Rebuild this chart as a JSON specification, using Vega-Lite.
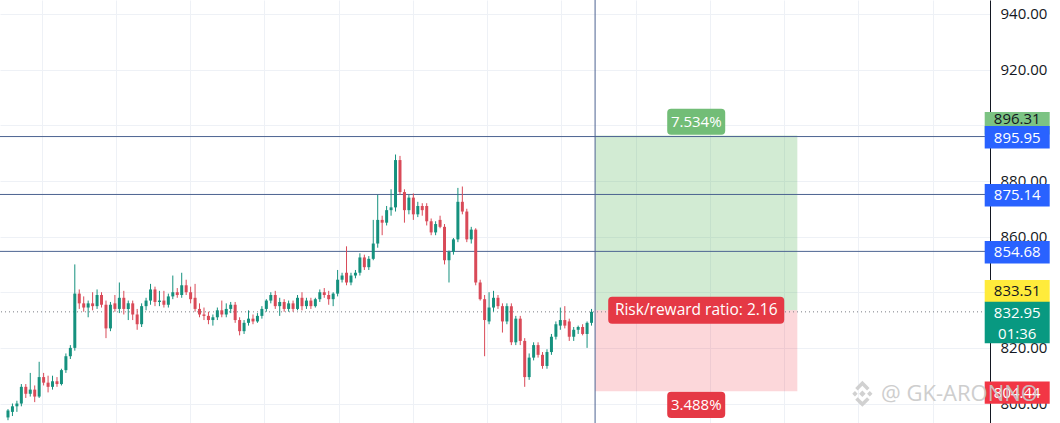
{
  "$schema": "https://vega.github.io/schema/vega-lite/v6.json",
  "width": 990,
  "height": 423,
  "autosize": "none",
  "padding": {"left": 0, "top": 0, "right": 70, "bottom": 0},
  "background": "white",
  "config": {"view": {"stroke": null}, "font": "Open Sans"},
  "datasets": {
    "candles": [
      {"t":0,"o":795,"h":798,"l":794,"c":797.5},{"t":1,"o":797,"h":800,"l":795.5,"c":799},{"t":2,"o":799,"h":801,"l":797,"c":800},
      {"t":3,"o":800,"h":807,"l":799,"c":806},{"t":4,"o":806,"h":807,"l":802,"c":803.5},{"t":5,"o":803.5,"h":811,"l":802.5,"c":805},
      {"t":6,"o":805,"h":806.5,"l":800.5,"c":802.5},{"t":7,"o":802.5,"h":815,"l":802,"c":809.5},{"t":8,"o":809.5,"h":811,"l":806.5,"c":807.5},
      {"t":9,"o":807.5,"h":810,"l":804,"c":806},{"t":10,"o":806,"h":810,"l":805,"c":808},{"t":11,"o":808,"h":809.5,"l":806,"c":807},
      {"t":12,"o":807,"h":812.5,"l":806.5,"c":812},{"t":13,"o":812,"h":818,"l":811,"c":817},{"t":14,"o":817,"h":821,"l":816,"c":820},
      {"t":15,"o":820,"h":850,"l":819,"c":839.5},{"t":16,"o":839.5,"h":841,"l":834,"c":836},{"t":17,"o":836,"h":838.5,"l":833,"c":834.5},
      {"t":18,"o":834.5,"h":837,"l":831,"c":836},{"t":19,"o":836,"h":840,"l":833.5,"c":835},{"t":20,"o":835,"h":841,"l":834,"c":839},
      {"t":21,"o":839,"h":840,"l":834.5,"c":835.5},{"t":22,"o":835.5,"h":837,"l":823.5,"c":827},{"t":23,"o":827,"h":836.5,"l":826,"c":835.5},
      {"t":24,"o":836,"h":839,"l":833,"c":834},{"t":25,"o":834,"h":843.5,"l":832.5,"c":838},{"t":26,"o":838,"h":840.5,"l":832,"c":834},
      {"t":27,"o":834,"h":837,"l":830,"c":836},{"t":28,"o":836,"h":837,"l":830,"c":832},{"t":29,"o":832,"h":834,"l":826.5,"c":828.5},
      {"t":30,"o":828.5,"h":836,"l":827.5,"c":835},{"t":31,"o":835,"h":838,"l":833.5,"c":837},{"t":32,"o":837,"h":843,"l":835.5,"c":841},
      {"t":33,"o":841,"h":842,"l":835,"c":836.5},{"t":34,"o":836.5,"h":840.5,"l":835,"c":837},{"t":35,"o":837,"h":840.5,"l":834.5,"c":835.5},
      {"t":36,"o":835.5,"h":839.5,"l":834.5,"c":838.5},{"t":37,"o":838.5,"h":846,"l":837.5,"c":840},{"t":38,"o":840,"h":841.5,"l":838,"c":839},
      {"t":39,"o":839,"h":847,"l":838,"c":842.5},{"t":40,"o":842.5,"h":844.5,"l":839,"c":840},{"t":41,"o":840,"h":842,"l":836,"c":837.5},
      {"t":42,"o":838,"h":843,"l":833,"c":834},{"t":43,"o":834,"h":836,"l":831,"c":832},{"t":44,"o":832,"h":834.5,"l":830,"c":831.5},
      {"t":45,"o":831.5,"h":833,"l":828.5,"c":830},{"t":46,"o":830,"h":832,"l":828,"c":831},{"t":47,"o":831,"h":834.5,"l":830,"c":833.5},
      {"t":48,"o":833.5,"h":837,"l":831,"c":832},{"t":49,"o":832,"h":836,"l":831,"c":834},{"t":50,"o":834,"h":836.5,"l":832.5,"c":835.5},
      {"t":51,"o":835.5,"h":836.5,"l":829,"c":830},{"t":52,"o":830,"h":831,"l":824.5,"c":826},{"t":53,"o":826,"h":830,"l":825,"c":829},
      {"t":54,"o":829,"h":833.5,"l":828,"c":830.5},{"t":55,"o":830.5,"h":832,"l":828.5,"c":829.5},{"t":56,"o":829.5,"h":832.5,"l":829,"c":831.5},
      {"t":57,"o":831.5,"h":835,"l":830.5,"c":834},{"t":58,"o":834,"h":837.5,"l":833,"c":837},{"t":59,"o":837,"h":840,"l":836,"c":839},
      {"t":60,"o":839,"h":840.5,"l":834,"c":835},{"t":61,"o":835,"h":838,"l":831.5,"c":836.5},{"t":62,"o":836.5,"h":837.5,"l":833,"c":834},
      {"t":63,"o":834,"h":837,"l":833,"c":836},{"t":64,"o":836,"h":837,"l":833,"c":834},{"t":65,"o":834,"h":839,"l":833.5,"c":838},
      {"t":66,"o":838,"h":840,"l":833.5,"c":835},{"t":67,"o":835,"h":838,"l":834,"c":837},{"t":68,"o":837,"h":838,"l":834,"c":835},
      {"t":69,"o":835,"h":838,"l":834.5,"c":837.5},{"t":70,"o":837.5,"h":841,"l":836.5,"c":840},{"t":71,"o":840,"h":841.5,"l":838,"c":839},
      {"t":72,"o":839,"h":840.5,"l":835.5,"c":837.5},{"t":73,"o":837.5,"h":840,"l":835,"c":839.5},{"t":74,"o":839.5,"h":848,"l":838.5,"c":844.5},
      {"t":75,"o":844.5,"h":847,"l":843.5,"c":846},{"t":76,"o":847,"h":856.5,"l":842.5,"c":843.5},{"t":77,"o":843.5,"h":847,"l":842.5,"c":846},
      {"t":78,"o":846,"h":848,"l":845,"c":847},{"t":79,"o":847,"h":854,"l":846,"c":852.5},{"t":80,"o":852.5,"h":853.5,"l":848,"c":849},
      {"t":81,"o":849,"h":853,"l":848,"c":852},{"t":82,"o":852,"h":866,"l":851.5,"c":857.5},{"t":83,"o":857.5,"h":875,"l":856,"c":866},
      {"t":84,"o":866,"h":867.5,"l":860.5,"c":865},{"t":85,"o":865,"h":871,"l":864,"c":869.5},{"t":86,"o":869.5,"h":877,"l":867.5,"c":870.5},
      {"t":87,"o":870.5,"h":889.5,"l":869,"c":887.5},{"t":88,"o":887.5,"h":889,"l":875,"c":876},{"t":89,"o":876,"h":877,"l":865,"c":869.5},
      {"t":90,"o":869.5,"h":875,"l":868,"c":874},{"t":91,"o":874,"h":875.5,"l":866,"c":868},{"t":92,"o":868,"h":872.5,"l":867,"c":871},
      {"t":93,"o":871,"h":872,"l":867.5,"c":869.5},{"t":94,"o":871,"h":872,"l":864,"c":865.5},{"t":95,"o":865.5,"h":866.5,"l":860.5,"c":861.5},
      {"t":96,"o":861.5,"h":865.5,"l":860.5,"c":864.5},{"t":97,"o":866,"h":867.5,"l":863,"c":863.5},{"t":98,"o":863.5,"h":864.5,"l":850,"c":851.5},
      {"t":99,"o":851.5,"h":855,"l":843.5,"c":854.5},{"t":100,"o":854.5,"h":859.5,"l":853.5,"c":859},{"t":101,"o":859,"h":877.5,"l":858,"c":872.5},
      {"t":102,"o":872.5,"h":878,"l":868,"c":869},{"t":103,"o":869,"h":870,"l":858,"c":859},{"t":104,"o":859,"h":863.5,"l":857.5,"c":862.5},
      {"t":105,"o":862.5,"h":863,"l":842.5,"c":843.5},{"t":106,"o":843.5,"h":844.5,"l":837,"c":837.5},{"t":107,"o":837.5,"h":839,"l":817,"c":830},
      {"t":108,"o":829.5,"h":840,"l":828.5,"c":834.5},{"t":109,"o":834.5,"h":840.5,"l":833,"c":838},{"t":110,"o":838,"h":839,"l":834,"c":835},
      {"t":111,"o":835,"h":836,"l":825.5,"c":829.5},{"t":112,"o":829.5,"h":836,"l":828.5,"c":835},{"t":113,"o":835,"h":836,"l":821,"c":822},
      {"t":114,"o":822,"h":831.5,"l":821,"c":830.5},{"t":115,"o":830.5,"h":831.5,"l":821,"c":822.5},{"t":116,"o":822.5,"h":823.5,"l":806,"c":809.5},
      {"t":117,"o":809.5,"h":818,"l":808.5,"c":816.5},{"t":118,"o":816.5,"h":822,"l":815.5,"c":821},{"t":119,"o":821,"h":822,"l":816.5,"c":817.5},
      {"t":120,"o":817.5,"h":818.5,"l":812.5,"c":813.5},{"t":121,"o":813.5,"h":819.5,"l":812.5,"c":818.5},{"t":122,"o":818.5,"h":825,"l":817.5,"c":824},
      {"t":123,"o":824,"h":829.5,"l":823,"c":828.5},{"t":124,"o":828,"h":834.5,"l":826.5,"c":830},{"t":125,"o":830,"h":835,"l":827,"c":828},
      {"t":126,"o":829.5,"h":830.5,"l":822.5,"c":824},{"t":127,"o":824,"h":827.5,"l":822.5,"c":826.5},{"t":128,"o":826.5,"h":828,"l":825,"c":827.5},
      {"t":129,"o":827.5,"h":828.5,"l":824.5,"c":825},{"t":130,"o":825,"h":829.5,"l":820,"c":829},{"t":131,"o":829,"h":834,"l":828,"c":832.95}
    ],
    "position": [
      {"t0": 131.8, "t1": 177.2, "lo": 833.51, "hi": 896.31, "zone": "profit"},
      {"t0": 131.8, "t1": 177.2, "lo": 804.44, "hi": 833.51, "zone": "loss"}
    ],
    "levels": [{"price": 895.95}, {"price": 875.14}, {"price": 854.68}],
    "lastprice": [{"price": 832.95, "countdown": "01:36"}],
    "vline": [{"t": 131.8}],
    "poslabels": [
      {"t": 154.5, "price": 896.31, "text": "7.534%", "kind": "profit"},
      {"t": 154.5, "price": 833.51, "text": "Risk/reward ratio: 2.16", "kind": "ratio"},
      {"t": 154.5, "price": 804.44, "text": "3.488%", "kind": "loss"}
    ],
    "tags": [
      {"price": 896.31, "label": "896.31", "kind": "target"},
      {"price": 895.95, "label": "895.95", "kind": "level"},
      {"price": 875.14, "label": "875.14", "kind": "level"},
      {"price": 854.68, "label": "854.68", "kind": "level"},
      {"price": 833.51, "label": "833.51", "kind": "entry"},
      {"price": 832.95, "label": "832.95", "kind": "last"},
      {"price": 804.44, "label": "804.44", "kind": "stop"}
    ],
    "watermark": [{"text": "@ GK-ARONNO"}]
  },
  "layer": [
    {
      "data": {"name": "position"},
      "mark": {"type": "rect"},
      "encoding": {
        "x": {"field": "t0", "type": "quantitative",
          "scale": {"domain": [-0.67, 219.33], "nice": false, "zero": false},
          "axis": {"orient": "bottom", "values": [7.56, 24.22, 40.89, 57.56, 74.22, 90.89, 107.56, 124.22, 140.89, 157.56, 174.22, 190.89, 207.56],
            "labels": false, "ticks": false, "domain": false, "grid": true, "gridColor": "#eef1f6", "title": null}},
        "x2": {"field": "t1"},
        "y": {"field": "lo", "type": "quantitative",
          "scale": {"domain": [793, 945.03], "nice": false, "zero": false},
          "axis": {"orient": "right", "values": [800, 820, 840, 860, 880, 900, 920, 940], "format": ".2f",
            "grid": true, "gridColor": "#eef1f6", "domain": true, "domainColor": "#131722", "ticks": false, "tickSize": 0,
            "labelPadding": 10, "labelFontSize": 15, "labelFont": "Open Sans", "labelColor": "#131722", "title": null}},
        "y2": {"field": "hi"},
        "color": {"condition": {"test": "datum.zone == 'profit'", "value": "#4caf50"}, "value": "#f23645"},
        "opacity": {"condition": {"test": "datum.zone == 'profit'", "value": 0.25}, "value": 0.2}
      }
    },
    {
      "data": {"name": "levels"},
      "mark": {"type": "rule", "color": "#4c6391", "strokeWidth": 1},
      "encoding": {"y": {"field": "price", "type": "quantitative"}}
    },
    {
      "data": {"name": "lastprice"},
      "mark": {"type": "rule", "color": "#7a7d86", "strokeWidth": 1, "strokeDash": [1, 3]},
      "encoding": {"y": {"field": "price", "type": "quantitative"}}
    },
    {
      "data": {"name": "vline"},
      "mark": {"type": "rule", "color": "#4c6391", "strokeWidth": 1},
      "encoding": {"x": {"field": "t", "type": "quantitative"}}
    },
    {
      "data": {"name": "candles"},
      "mark": {"type": "rule", "strokeWidth": 1},
      "encoding": {
        "x": {"field": "t", "type": "quantitative"},
        "y": {"field": "l", "type": "quantitative"},
        "y2": {"field": "h"},
        "color": {"condition": {"test": "datum.c >= datum.o", "value": "#15917e"}, "value": "#d94a58"}
      }
    },
    {
      "data": {"name": "candles"},
      "mark": {"type": "bar", "width": 3},
      "encoding": {
        "x": {"field": "t", "type": "quantitative"},
        "y": {"field": "o", "type": "quantitative"},
        "y2": {"field": "c"},
        "color": {"condition": {"test": "datum.c >= datum.o", "value": "#15917e"}, "value": "#d94a58"}
      }
    },
    {
      "data": {"name": "poslabels"},
      "transform": [{"filter": "datum.kind == 'profit'"}],
      "layer": [
        {"mark": {"type": "point", "filled": true, "opacity": 1, "size": 3364, "color": "#72bd77",
          "shape": "M-0.862,-0.921L0.862,-0.921Q1,-0.921 1,-0.783L1,-0.162Q1,-0.024 0.862,-0.024L-0.862,-0.024Q-1,-0.024 -1,-0.162L-1,-0.783Q-1,-0.921 -0.862,-0.921Z"}},
        {"mark": {"type": "text", "color": "white", "fontSize": 15, "font": "Open Sans", "baseline": "middle", "dy": -14},
          "encoding": {"text": {"field": "text"}}}
      ],
      "encoding": {"x": {"field": "t", "type": "quantitative"}, "y": {"field": "price", "type": "quantitative"}}
    },
    {
      "data": {"name": "poslabels"},
      "transform": [{"filter": "datum.kind == 'ratio'"}],
      "layer": [
        {"mark": {"type": "point", "filled": true, "opacity": 1, "size": 30976, "color": "#e53945",
          "shape": "M-0.9545,-0.1534L0.9545,-0.1534Q1,-0.1534 1,-0.1079L1,0.1079Q1,0.1534 0.9545,0.1534L-0.9545,0.1534Q-1,0.1534 -1,0.1079L-1,-0.1079Q-1,-0.1534 -0.9545,-0.1534Z"}},
        {"mark": {"type": "text", "color": "white", "fontSize": 15.5, "font": "Open Sans", "baseline": "middle", "dy": 0},
          "encoding": {"text": {"field": "text"}}}
      ],
      "encoding": {"x": {"field": "t", "type": "quantitative"}, "y": {"field": "price", "type": "quantitative"}}
    },
    {
      "data": {"name": "poslabels"},
      "transform": [{"filter": "datum.kind == 'loss'"}],
      "layer": [
        {"mark": {"type": "point", "filled": true, "opacity": 1, "size": 3364, "color": "#e53945",
          "shape": "M-0.862,0.024L0.862,0.024Q1,0.024 1,0.162L1,0.783Q1,0.921 0.862,0.921L-0.862,0.921Q-1,0.921 -1,0.783L-1,0.162Q-1,0.024 -0.862,0.024Z"}},
        {"mark": {"type": "text", "color": "white", "fontSize": 15, "font": "Open Sans", "baseline": "middle", "dy": 14},
          "encoding": {"text": {"field": "text"}}}
      ],
      "encoding": {"x": {"field": "t", "type": "quantitative"}, "y": {"field": "price", "type": "quantitative"}}
    },
    {
      "data": {"name": "tags"},
      "transform": [{"filter": "datum.kind == 'target'"}],
      "layer": [
        {"mark": {"type": "point", "filled": true, "opacity": 1, "size": 4225, "color": "#7cc383", "clip": false,
          "shape": "M-1,-0.723L1,-0.723L1,-0.03L-1,-0.03Z"}},
        {"mark": {"type": "text", "color": "#131722", "fontSize": 15, "font": "Open Sans", "baseline": "middle", "dy": -16.5},
          "encoding": {"text": {"field": "label"}}}
      ],
      "encoding": {"x": {"datum": 226.56, "type": "quantitative"}, "y": {"field": "price", "type": "quantitative"}}
    },
    {
      "data": {"name": "tags"},
      "transform": [{"filter": "datum.kind == 'level'"}],
      "layer": [
        {"mark": {"type": "point", "filled": true, "opacity": 1, "size": 4225, "color": "#2962ff",
          "shape": "M-1,-0.323L1,-0.323L1,0.369L-1,0.369Z"}},
        {"mark": {"type": "text", "color": "white", "fontSize": 15, "font": "Open Sans", "baseline": "middle", "dy": 1},
          "encoding": {"text": {"field": "label"}}}
      ],
      "encoding": {"x": {"datum": 226.56, "type": "quantitative"}, "y": {"field": "price", "type": "quantitative"}}
    },
    {
      "data": {"name": "tags"},
      "transform": [{"filter": "datum.kind == 'entry'"}],
      "layer": [
        {"mark": {"type": "point", "filled": true, "opacity": 1, "size": 4225, "color": "#ffeb3b",
          "shape": "M-1,-0.935L1,-0.935L1,-0.258L-1,-0.258Z"}},
        {"mark": {"type": "text", "color": "#131722", "fontSize": 15, "font": "Open Sans", "baseline": "middle", "dy": -19},
          "encoding": {"text": {"field": "label"}}}
      ],
      "encoding": {"x": {"datum": 226.56, "type": "quantitative"}, "y": {"field": "price", "type": "quantitative"}}
    },
    {
      "data": {"name": "lastprice"},
      "layer": [
        {"mark": {"type": "point", "filled": true, "opacity": 1, "size": 4225, "color": "#089981",
          "shape": "M-1,-0.314L1,-0.314L1,0.966L-1,0.966Z"}},
        {"mark": {"type": "text", "color": "white", "fontSize": 15, "font": "Open Sans", "baseline": "middle", "dy": 1},
          "encoding": {"text": {"field": "price", "type": "quantitative", "format": ".2f"}}},
        {"mark": {"type": "text", "color": "white", "fontSize": 15, "font": "Open Sans", "baseline": "middle", "dy": 22},
          "encoding": {"text": {"field": "countdown"}}}
      ],
      "encoding": {"x": {"datum": 226.56, "type": "quantitative"}, "y": {"field": "price", "type": "quantitative"}}
    },
    {
      "data": {"name": "tags"},
      "transform": [{"filter": "datum.kind == 'stop'"}],
      "layer": [
        {"mark": {"type": "point", "filled": true, "opacity": 1, "size": 4225, "color": "#f23645",
          "shape": "M-1,-0.295L1,-0.295L1,0.39L-1,0.39Z"}},
        {"mark": {"type": "text", "color": "white", "fontSize": 15, "font": "Open Sans", "baseline": "middle", "dy": 2},
          "encoding": {"text": {"field": "label"}}}
      ],
      "encoding": {"x": {"datum": 226.56, "type": "quantitative"}, "y": {"field": "price", "type": "quantitative"}}
    },
    {
      "data": {"name": "watermark"},
      "layer": [
        {"mark": {"type": "point", "filled": true, "opacity": 0.85, "size": 676, "color": "#c9c9c9",
          "shape": "M0,-0.25L0.25,0L0,0.25L-0.25,0Z M0,-1L0.55,-0.45L0.36,-0.26L0,-0.62L-0.36,-0.26L-0.55,-0.45Z M0,1L0.55,0.45L0.36,0.26L0,0.62L-0.36,0.26L-0.55,0.45Z M-0.78,0L-0.57,-0.21L-0.36,0L-0.57,0.21Z M0.78,0L0.57,-0.21L0.36,0L0.57,0.21Z"},
          "encoding": {"x": {"datum": 191.8, "type": "quantitative"}, "y": {"datum": 803.5, "type": "quantitative"}}},
        {"mark": {"type": "text", "color": "#c9c9c9", "opacity": 0.9, "fontSize": 22, "font": "Open Sans", "align": "left", "baseline": "middle"},
          "encoding": {"x": {"datum": 196.0, "type": "quantitative"}, "y": {"datum": 803.5, "type": "quantitative"}, "text": {"field": "text"}}}
      ]
    }
  ]
}
